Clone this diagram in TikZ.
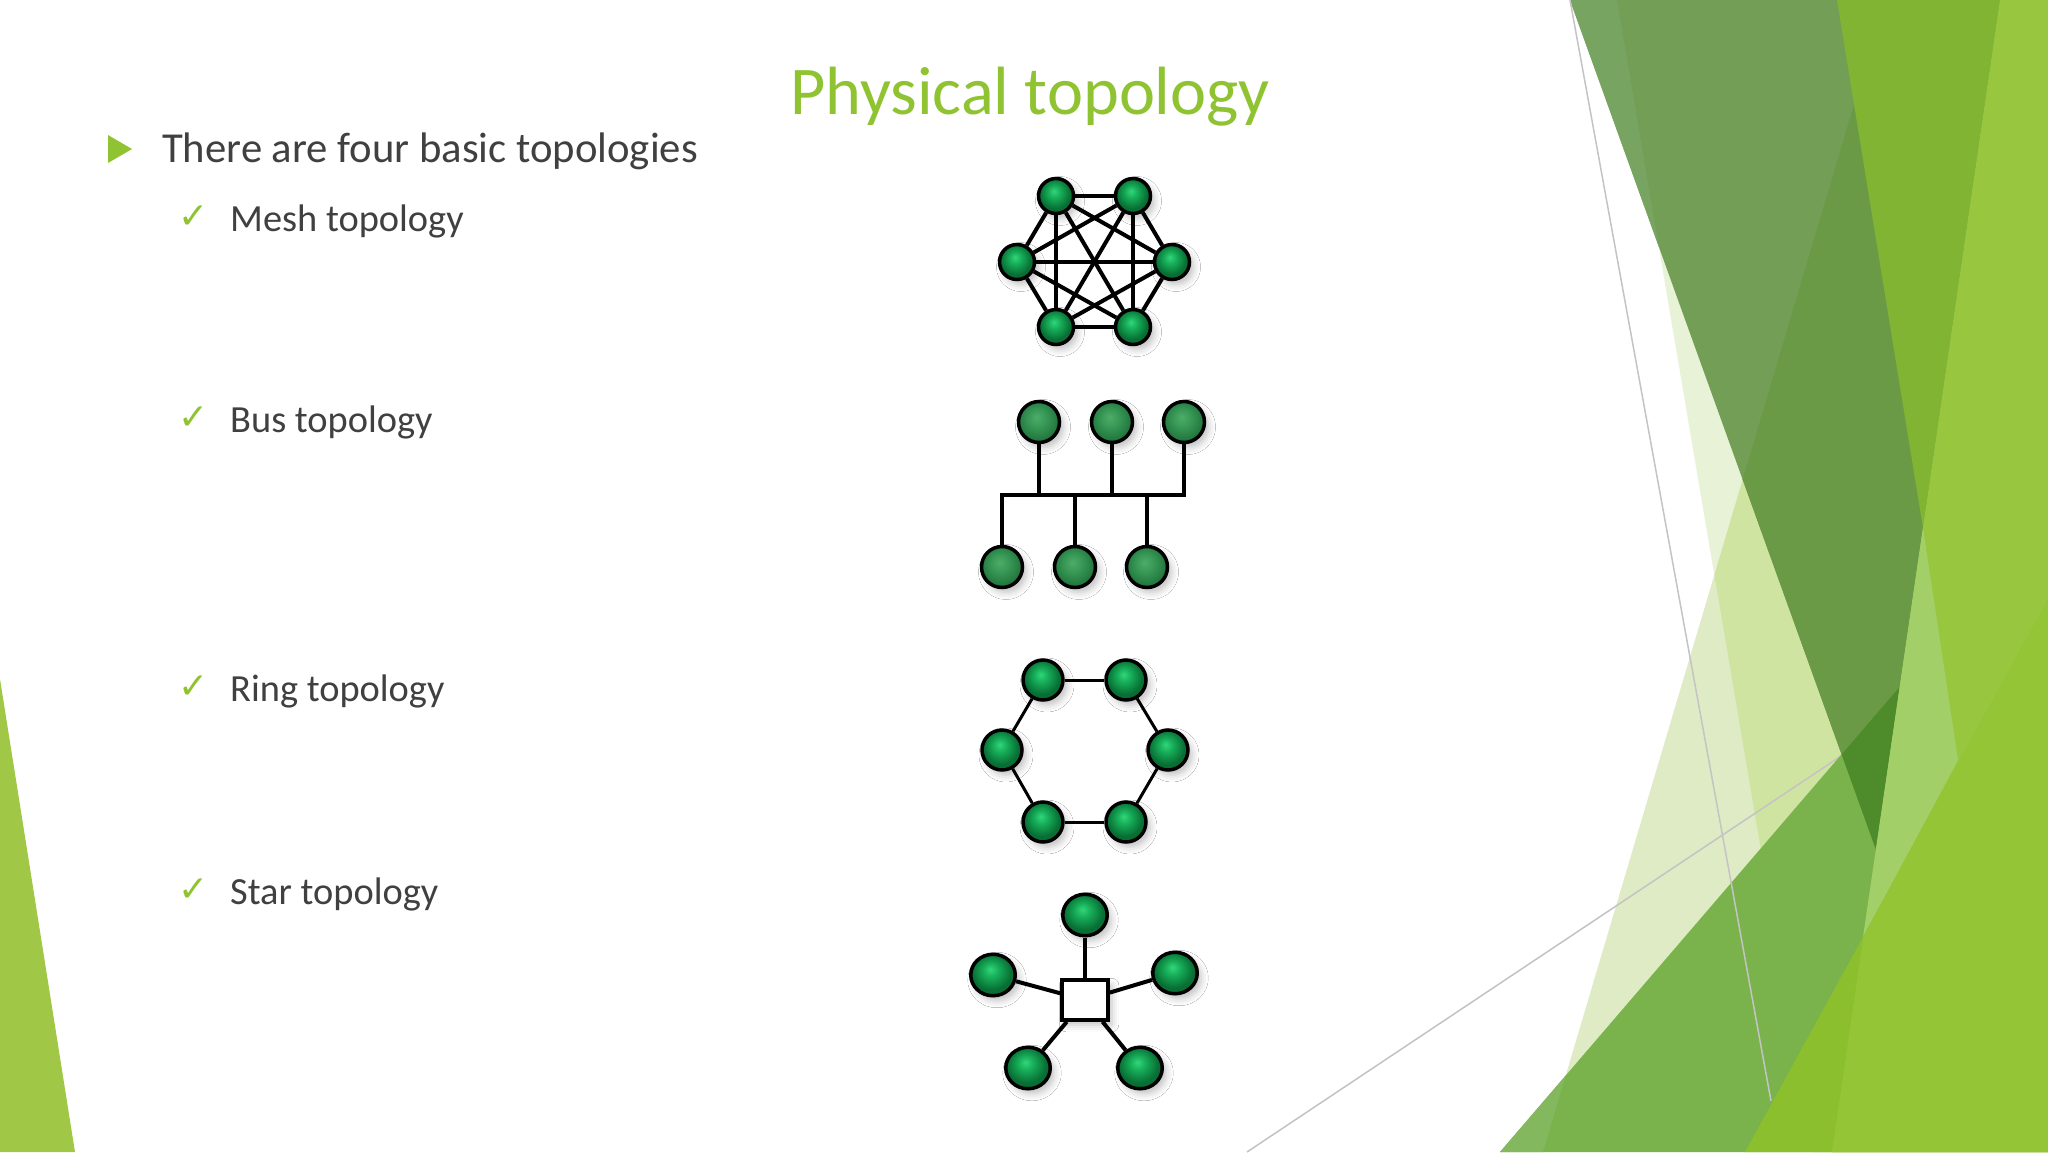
\documentclass[tikz,border=0pt]{standalone}
\usepackage{fontspec}
\setmainfont{Carlito}
\newfontfamily\symfont{DejaVu Sans}
\usetikzlibrary{shadows.blur,shapes.geometric}
\definecolor{gHi}{RGB}{50,214,122}
\definecolor{gMid}{RGB}{22,172,88}
\definecolor{gLo}{RGB}{8,110,52}
\definecolor{bHi}{RGB}{78,172,104}
\definecolor{bMid}{RGB}{54,150,84}
\definecolor{bLo}{RGB}{34,118,62}
\definecolor{txt}{RGB}{64,64,64}
\definecolor{accent}{RGB}{143,195,49}
\definecolor{cLeft}{RGB}{160,200,70}
\definecolor{cC}{RGB}{223,235,196}
\definecolor{cG}{RGB}{232,242,214}
\definecolor{cCG}{RGB}{208,228,162}
\definecolor{cA}{RGB}{115,158,86}
\definecolor{cA2}{RGB}{120,164,98}
\definecolor{cAC}{RGB}{106,154,69}
\definecolor{cB}{RGB}{128,180,50}
\definecolor{cD}{RGB}{122,178,76}
\definecolor{cDl}{RGB}{132,184,94}
\definecolor{cAD}{RGB}{78,139,42}
\definecolor{cQ}{RGB}{152,198,63}
\definecolor{cF}{RGB}{163,207,104}
\definecolor{cE}{RGB}{140,191,46}
\definecolor{cEQ}{RGB}{147,197,54}
\definecolor{cThin}{RGB}{196,196,196}
\pgfdeclareradialshading{greensphere}{\pgfpoint{-3bp}{7bp}}{color(0bp)=(gHi); color(9bp)=(gMid); color(22bp)=(gLo); color(25bp)=(gLo); color(50bp)=(gLo)}
\pgfdeclareradialshading{bussphere}{\pgfpoint{-3bp}{6bp}}{color(0bp)=(bHi); color(12bp)=(bMid); color(25bp)=(bLo); color(50bp)=(bLo)}
\tikzset{
  shd/.style={blur shadow={shadow xshift=4pt, shadow yshift=-5pt, shadow blur radius=7pt, shadow opacity=25}},
  sphere/.style={circle, draw=black, line width=3.5pt, shading=greensphere, inner sep=0pt, minimum size=#1, shd},
  bsphere/.style={circle, draw=black, line width=3.5pt, shading=bussphere, inner sep=0pt, minimum size=#1, shd},
  esphere/.style 2 args={ellipse, draw=black, line width=3.5pt, shading=greensphere, inner sep=0pt, minimum width=#1, minimum height=#2, shd},
  link/.style={draw=black, line width=4pt},
  rlink/.style={draw=black, line width=3pt},
  hairline/.style={draw=cThin, line width=1.5pt},
  subtext/.style={anchor=base west, inner sep=0pt, text=txt, font=\fontsize{38.4}{46}\selectfont},
  chk/.style={anchor=center, inner sep=0pt, text=accent, font=\symfont\fontsize{36}{40}\selectfont},
}
\begin{document}
\begin{tikzpicture}[x=1pt,y=-1pt]
\useasboundingbox (0,0) rectangle (2048,1152);
\fill[white] (0,0) rectangle (2048,1152);

% ---------- background facets ----------
\fill[cLeft] (0,679) -- (75,1152) -- (0,1152) -- cycle;
\fill[cC] (1885,0) -- (1543,1152) -- (2048,1152) -- (2048,0) -- cycle;
\fill[cG] (1617,0) -- (1812,1152) -- (2048,1152) -- (2048,0) -- cycle;
\begin{scope}
  \clip (1885,0) -- (1543,1152) -- (2048,1152) -- (2048,0) -- cycle;
  \fill[cCG] (1617,0) -- (1812,1152) -- (2048,1152) -- (2048,0) -- cycle;
\end{scope}
\coordinate (h2a) at (1247,1152);
\coordinate (h2b) at (1841,756);
\draw[hairline] (h2a) -- (h2b);
\fill[cA] (1570,0) -- (2000,0) -- (1876,850) -- cycle;
\begin{scope}
  \clip (1570,0) -- (2000,0) -- (1876,850) -- cycle;
  \fill[cA2] (1500,0) -- (1617,0) -- (1812,1152) -- (1500,1152) -- cycle;
  \fill[cAC] (1885,0) -- (1543,1152) -- (2048,1152) -- (2048,0) -- cycle;
\end{scope}
\fill[cB] (1837,0) -- (2000,0) -- (1923,528) -- cycle;
\fill[cD] (1500,1152) -- (2048,514) -- (2048,1152) -- cycle;
\begin{scope}
  \clip (1500,1152) -- (2048,514) -- (2048,1152) -- cycle;
  \fill[cDl] (1400,1152) -- (1543,1152) -- (1885,0) -- (1400,0) -- cycle;
  \fill[cAD] (1570,0) -- (2000,0) -- (1876,850) -- cycle;
\end{scope}
\coordinate (h1a) at (1570,0);
\coordinate (h1b) at (1771,1101);
\draw[hairline] (h1a) -- (h1b);
\fill[cQ] (2000,0) -- (2048,0) -- (2048,1152) -- (1832,1152) -- cycle;
\fill[cF] (1923,528) -- (1958,760) -- (1863,937) -- cycle;
\fill[cE] (1745,1152) -- (2048,600) -- (2048,1152) -- cycle;
\begin{scope}
  \clip (1745,1152) -- (2048,600) -- (2048,1152) -- cycle;
  \fill[cEQ] (2000,0) -- (2048,0) -- (2048,1152) -- (1832,1152) -- cycle;
\end{scope}

% ---------- texts ----------
\node[anchor=base, inner sep=0pt, text=accent, font=\fontsize{68.3}{80}\selectfont] (title) at (1030,114) {Physical topology};
\fill[accent] (108,135) -- (132,149) -- (108,163) -- cycle;
\node[anchor=base west, inner sep=0pt, text=txt, font=\fontsize{42.7}{50}\selectfont] (lead) at (162,162) {There are four basic topologies};
\node[chk] (c1) at (194,217) {✓};
\node[subtext] (t1) at (230,231) {Mesh topology};
\node[chk] (c2) at (194,418) {✓};
\node[subtext] (t2) at (230,432) {Bus topology};
\node[chk] (c3) at (194,687) {✓};
\node[subtext] (t3) at (230,701) {Ring topology};
\node[chk] (c4) at (194,890) {✓};
\node[subtext] (t4) at (230,904) {Star topology};

% ---------- mesh ----------
\node[sphere=35] (m1) at (1056,196) {};
\node[sphere=35] (m2) at (1133,196) {};
\node[sphere=35] (m3) at (1172,262) {};
\node[sphere=35] (m4) at (1133,327) {};
\node[sphere=35] (m5) at (1056,327) {};
\node[sphere=35] (m6) at (1017,262) {};
\foreach \a/\b in {m1/m2,m1/m3,m1/m4,m1/m5,m1/m6,m2/m3,m2/m4,m2/m5,m2/m6,m3/m4,m3/m5,m3/m6,m4/m5,m4/m6,m5/m6}
  \draw[link] (\a) -- (\b);

% ---------- bus ----------
\coordinate (busy) at (0,495);
\node[bsphere=41] (bt1) at (1039,422) {};
\node[bsphere=41] (bt2) at (1112,422) {};
\node[bsphere=41] (bt3) at (1184,422) {};
\node[bsphere=41] (bb1) at (1002,567) {};
\node[bsphere=41] (bb2) at (1075,567) {};
\node[bsphere=41] (bb3) at (1147,567) {};
\draw[link, line join=miter] (bt3.south) -- (bt3.south |- busy) -- (bb1.north |- busy) -- (bb1.north);
\draw[link] (bt1.south) -- (bt1.south |- busy);
\draw[link] (bt2.south) -- (bt2.south |- busy);
\draw[link] (bb2.north) -- (bb2.north |- busy);
\draw[link] (bb3.north) -- (bb3.north |- busy);

% ---------- ring ----------
\node[sphere=40] (r1) at (1043,680) {};
\node[sphere=40] (r2) at (1126,680) {};
\node[sphere=40] (r3) at (1168,750) {};
\node[sphere=40] (r4) at (1126,822) {};
\node[sphere=40] (r5) at (1043,822) {};
\node[sphere=40] (r6) at (1002,750) {};
\foreach \a/\b in {r1/r2,r2/r3,r3/r4,r4/r5,r5/r6,r6/r1}
  \draw[rlink] (\a) -- (\b);

% ---------- star ----------
\node[draw=black, fill=white, line width=4pt, minimum width=45.5pt, minimum height=39.5pt, inner sep=0pt, shd] (hub) at (1085,1000) {};
\node[esphere={44.5}{41.5}] (s1) at (1085,915) {};
\node[esphere={44.5}{41.5}] (s2) at (1175,973) {};
\node[esphere={44.5}{41.5}] (s3) at (1140,1068) {};
\node[esphere={44.5}{41.5}] (s4) at (1028,1068) {};
\node[esphere={44.5}{41.5}] (s5) at (993,975) {};
\foreach \a in {s1,s2,s3,s4,s5}
  \draw[link] (\a) -- (hub);
\end{tikzpicture}
\end{document}
